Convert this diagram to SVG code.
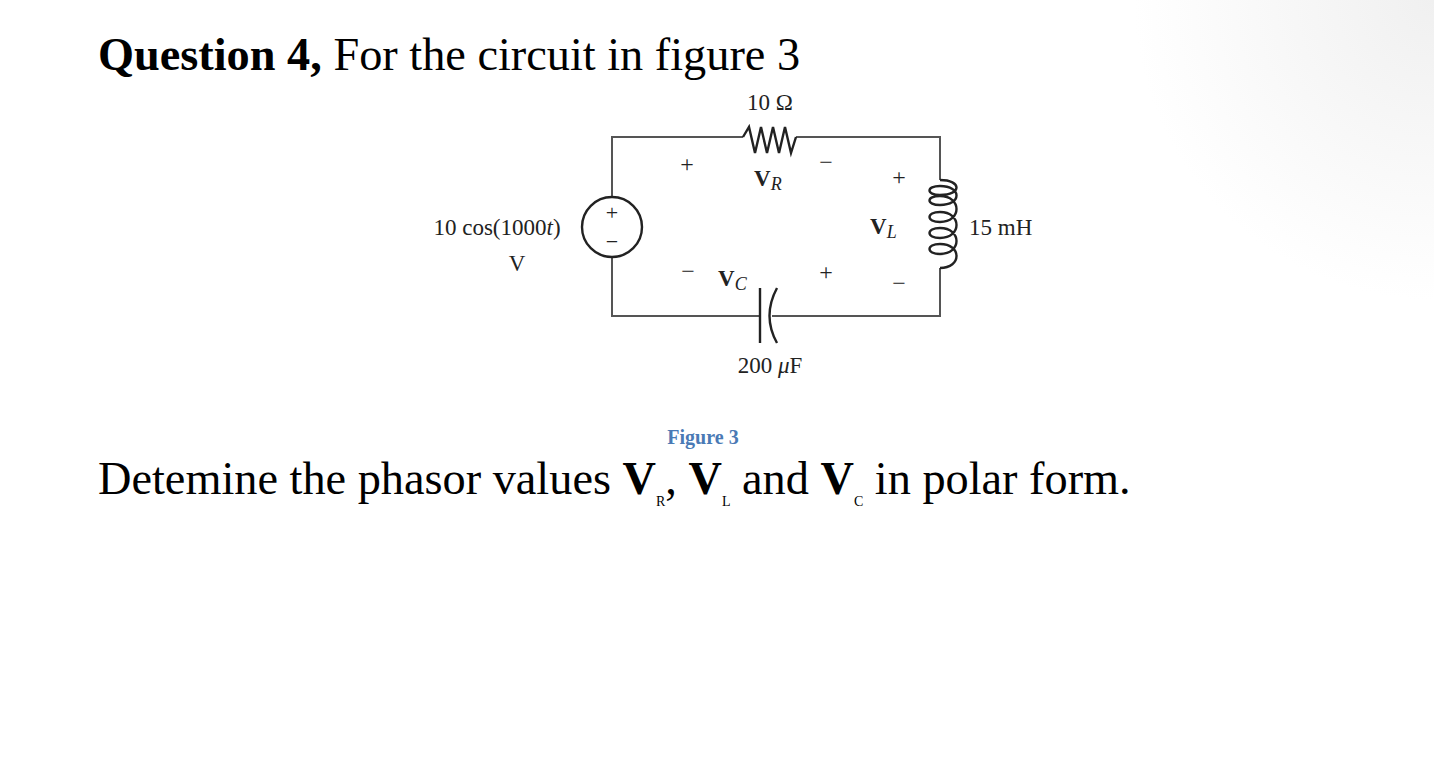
<svg xmlns="http://www.w3.org/2000/svg" width="1434" height="774" viewBox="0 0 1434 774">
<defs>
<radialGradient id="bg" cx="1434" cy="0" r="300" gradientUnits="userSpaceOnUse">
<stop offset="0" stop-color="#f0f0f0"/><stop offset="1" stop-color="#ffffff"/>
</radialGradient>
</defs>
<style>
.w{fill:none;stroke:#555;stroke-width:2}
.c{stroke:#222;stroke-width:2.4;fill:none}
.t{font-family:"Liberation Serif",serif;fill:#222}
.s{font-size:23px}
.p{font-size:24px}
.b{font-weight:bold}
.i{font-style:italic;font-weight:normal}
.big{font-family:"Liberation Serif",serif;font-size:46.3px;fill:#000}
</style>
<rect width="1434" height="774" fill="url(#bg)"/>
<text class="big" x="98" y="70"><tspan font-weight="bold">Question 4,</tspan> For the circuit in figure 3</text>
<g id="wires">
<path class="w" d="M612 197V137H743M796 137H940V180M940 268V316H772M760 316H612V257"/>
</g>
<g id="resistor"><path class="c" d="M743 137L749 127L755 153L761 127L767 153L773 127L779 153L785 127L791 153L796 137"/></g>
<g id="source"><circle class="c" cx="612" cy="227" r="30" stroke-width="2"/>
<text class="t" x="612" y="220" font-size="22" text-anchor="middle">+</text>
<text class="t" x="612" y="249" font-size="22" text-anchor="middle">−</text></g>
<g id="inductor"><path class="c" d="M940 180C962 180 962 195 940 195C926 195 926 186 940 186C962 186 962 205 940 205C926 205 926 196 940 196C962 196 962 222 940 222C926 222 926 212 940 212C962 212 962 238 940 238C926 238 926 228 940 228C962 228 962 254 940 254C926 254 926 244 940 244C962 244 962 268 940 268"/></g>
<g id="capacitor"><path class="c" d="M760 288V343M777 288Q762 316 777 343"/></g>
<g id="labels">
<text class="t s" x="770" y="110" text-anchor="middle">10 Ω</text>
<text class="t p" x="687" y="172" text-anchor="middle">+</text>
<text class="t s b" x="754" y="186">V<tspan class="i" font-size="18" dy="4">R</tspan></text>
<text class="t p" x="826" y="170" text-anchor="middle">−</text>
<text class="t p" x="899" y="185" text-anchor="middle">+</text>
<text class="t s b" x="870" y="234">V<tspan class="i" font-size="18" dy="4">L</tspan></text>
<text class="t p" x="899" y="291" text-anchor="middle">−</text>
<text class="t p" x="688" y="279" text-anchor="middle">−</text>
<text class="t s b" x="718" y="286">V<tspan class="i" font-size="18" dy="4">C</tspan></text>
<text class="t p" x="826" y="280" text-anchor="middle">+</text>
<text class="t s" x="770" y="373" text-anchor="middle">200 <tspan font-style="italic">μ</tspan>F</text>
<text class="t s" x="969" y="235">15 mH</text>
<text class="t s" x="497" y="235" text-anchor="middle">10 cos(1000<tspan font-style="italic">t</tspan>)</text>
<text class="t s" x="517" y="271" text-anchor="middle">V</text>
</g>
<text x="703" y="444" font-family="Liberation Serif,serif" font-size="20" font-weight="bold" fill="#4a7ab5" text-anchor="middle">Figure 3</text>
<text class="big" x="98" y="494" font-size="47.8">Detemine the phasor values <tspan font-weight="bold">V</tspan><tspan font-size="14" dy="12">R</tspan><tspan dy="-12">, </tspan><tspan font-weight="bold">V</tspan><tspan font-size="14" dy="12">L</tspan><tspan dy="-12"> and </tspan><tspan font-weight="bold">V</tspan><tspan font-size="14" dy="12">C</tspan><tspan dy="-12"> in polar form.</tspan></text>
</svg>
